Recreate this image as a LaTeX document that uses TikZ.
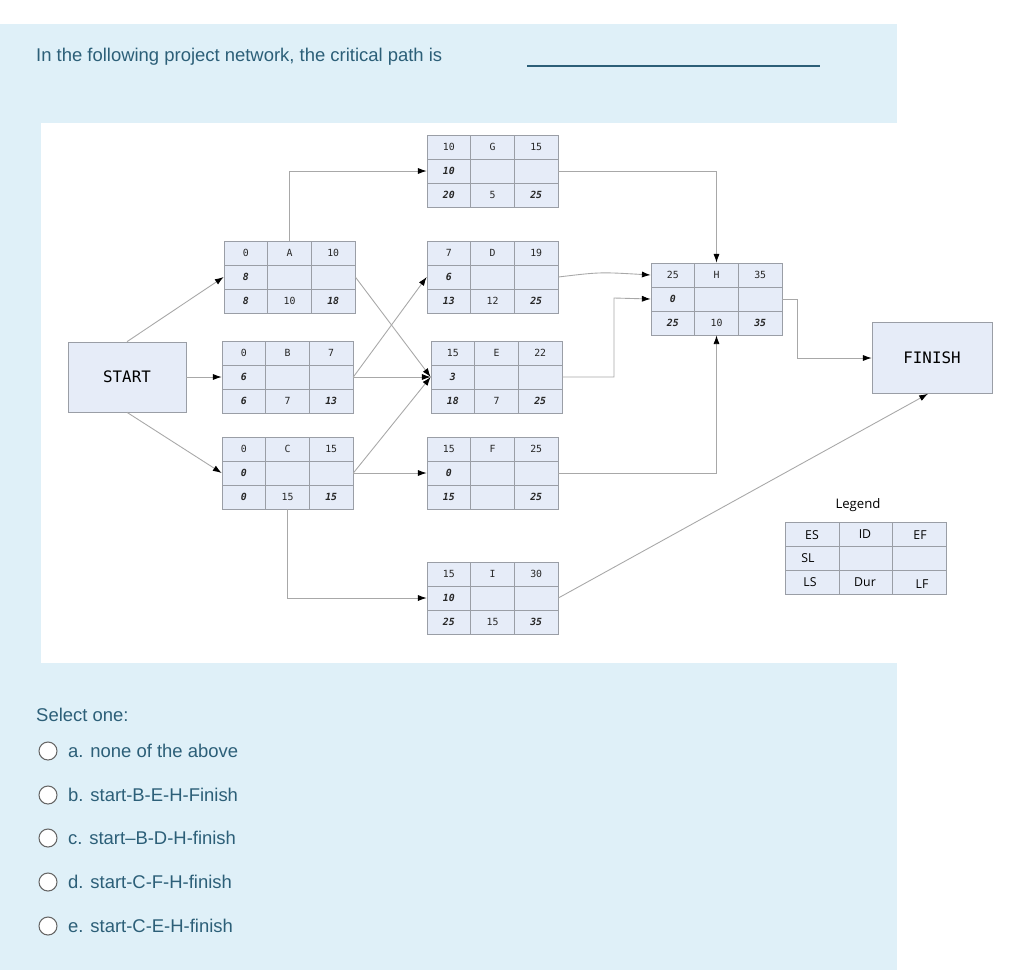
\documentclass[tikz,border=0pt]{standalone}
\usepackage{fontspec}
\setmainfont{Liberation Sans}
\newfontfamily\gridfont{DejaVu Sans Mono}
\newfontfamily\lgfont{Open Sans}
\usetikzlibrary{arrows.meta,calc}
\definecolor{panel}{HTML}{DFF0F8}
\definecolor{qtext}{HTML}{2C5F78}
\definecolor{cellfill}{HTML}{E6ECF8}
\definecolor{cellline}{HTML}{9A9EA6}
\definecolor{conn}{HTML}{A8A8A8}
\tikzset{
  actbox/.style={draw=cellline,fill=cellfill,minimum width=2.62cm,minimum height=1.44cm,inner sep=0pt},
  gtxt/.style={font=\gridfont\fontsize{5.6}{6}\selectfont,text=black!85},
  gbi/.style={font=\gridfont\bfseries\itshape\fontsize{5.6}{6}\selectfont,text=black!85},
  wire/.style={draw=conn,line width=0.5pt,-{Latex[length=5pt,width=3.5pt,color=black]}},
  plain/.style={draw=conn,line width=0.5pt},
  bigbox/.style={draw=cellline,fill=cellfill,inner sep=0pt},
  radio/.style={circle,draw=black!60,fill=white,minimum size=0.36cm,inner sep=0pt,line width=0.6pt},
  opt/.style={anchor=west,font=\fontsize{10.5}{12}\selectfont,text=qtext}
}
% name, topleft, r1a, r1b, r1c, r2a, r3a, r3b, r3c
\newcommand\actgrid[9]{%
  \node[actbox] (#1) at ($(#2)+(65.5,36)$) {};
  \draw[cellline] ($(#1.center)+(-21.8,-36)$) -- ++(0,72) ($(#1.center)+(21.8,-36)$) -- ++(0,72)
     ($(#1.center)+(-65.5,-12)$) -- ++(131,0) ($(#1.center)+(-65.5,12)$) -- ++(131,0);
  \node[gtxt] at ($(#1.center)+(-43.7,-24)$) {#3};
  \node[gtxt] at ($(#1.center)+(0,-24)$) {#4};
  \node[gtxt] at ($(#1.center)+(43.7,-24)$) {#5};
  \node[gbi] at ($(#1.center)+(-43.7,0)$) {#6};
  \node[gbi] at ($(#1.center)+(-43.7,24)$) {#7};
  \node[gtxt] at ($(#1.center)+(0,24)$) {#8};
  \node[gbi] at ($(#1.center)+(43.7,24)$) {#9};
}
\begin{document}
\begin{tikzpicture}[x=0.02cm,y=-0.02cm]
\useasboundingbox (0,0) rectangle (1024,971);
\fill[white] (0,0) rectangle (1024,971);
\fill[panel] (0,24) rectangle (897,970);
\fill[white] (41,123) rectangle (897,663);
\node[anchor=west,font=\fontsize{10.5}{12}\selectfont,text=qtext] (q) at (30,57) {In the following project network, the critical path is};
\draw[qtext,line width=0.6pt] (527,66) -- (820,66);

\actgrid{G}{427,135}{10}{G}{15}{10}{20}{5}{25}
\actgrid{A}{224,241}{0}{A}{10}{8}{8}{10}{18}
\actgrid{D}{427,241}{7}{D}{19}{6}{13}{12}{25}
\actgrid{B}{222,341}{0}{B}{7}{6}{6}{7}{13}
\actgrid{E}{431,341}{15}{E}{22}{3}{18}{7}{25}
\actgrid{C}{222,437}{0}{C}{15}{0}{0}{15}{15}
\actgrid{F}{427,437}{15}{F}{25}{0}{15}{}{25}
\actgrid{I}{427,562}{15}{I}{30}{10}{25}{15}{35}
\actgrid{H}{651,263}{25}{H}{35}{0}{25}{10}{35}

\node[bigbox,minimum width=2.36cm,minimum height=1.4cm,font=\gridfont\fontsize{9}{10}\selectfont] (start) at (127,377) {START};
\node[bigbox,minimum width=2.4cm,minimum height=1.42cm,font=\gridfont\fontsize{9}{10}\selectfont] (finish) at (932,358) {FINISH};

\draw[wire] (start.north) -- (A.west);
\draw[wire] (start.east) -- (B.west);
\draw[wire] (start.south) -- (C.west);
\draw[wire] (A.north) |- (G.west);
\draw[wire] (A.east) -- (E.west);
\draw[wire] (B.east) -- (D.west);
\draw[wire] (B.east) -- (E.west);
\draw[wire] (C.east) -- (E.west);
\draw[wire] (C.east) -- (F.west);
\draw[wire] (C.south) |- (I.west);
\draw[wire] (G.east) -| (H.north);
\draw[wire] (D.east) .. controls (600,272) .. ($(H.west)+(0,-24)$);
\coordinate (ej) at (614,298);
\draw[wire] (E.east) -| (ej) -- (H.west);
\draw[wire] (F.east) -| (H.south);
\coordinate (hj) at (797,358);
\draw[wire] (H.east) -| (hj) -- (finish.west);
\draw[wire] (I.east) -- ($(finish.south)+(-4,0)$);

% legend
\node[font=\lgfont\fontsize{7.5}{9}\selectfont] (lgt) at (858,505) {Legend};
\node[bigbox,minimum width=3.22cm,minimum height=1.44cm] (lg) at (865.5,558) {};
\draw[cellline] (839,522) -- (839,594) (892,522) -- (892,594) (785,546) -- (946,546) (785,570) -- (946,570);
\begin{scope}[every node/.style={font=\lgfont\fontsize{7}{8}\selectfont}]
\node at (812,535) {ES}; \node at (865,534) {ID}; \node at (920,535) {EF};
\node at (808,558) {SL};
\node at (810,582) {LS}; \node at (865,582) {Dur}; \node at (922,584) {LF};
\end{scope}

\node[anchor=west,font=\fontsize{10.5}{12}\selectfont,text=qtext] (sel) at (30,715) {Select one:};
\node[radio] (r1) at (48,751) {}; \node[opt] at (62,751) {a. none of the above};
\node[radio] (r2) at (48,795) {}; \node[opt] at (62,795) {b. start-B-E-H-Finish};
\node[radio] (r3) at (48,838) {}; \node[opt] at (62,838) {c. start--B-D-H-finish};
\node[radio] (r4) at (48,882) {}; \node[opt] at (62,882) {d. start-C-F-H-finish};
\node[radio] (r5) at (48,926) {}; \node[opt] at (62,926) {e. start-C-E-H-finish};
\end{tikzpicture}
\end{document}
